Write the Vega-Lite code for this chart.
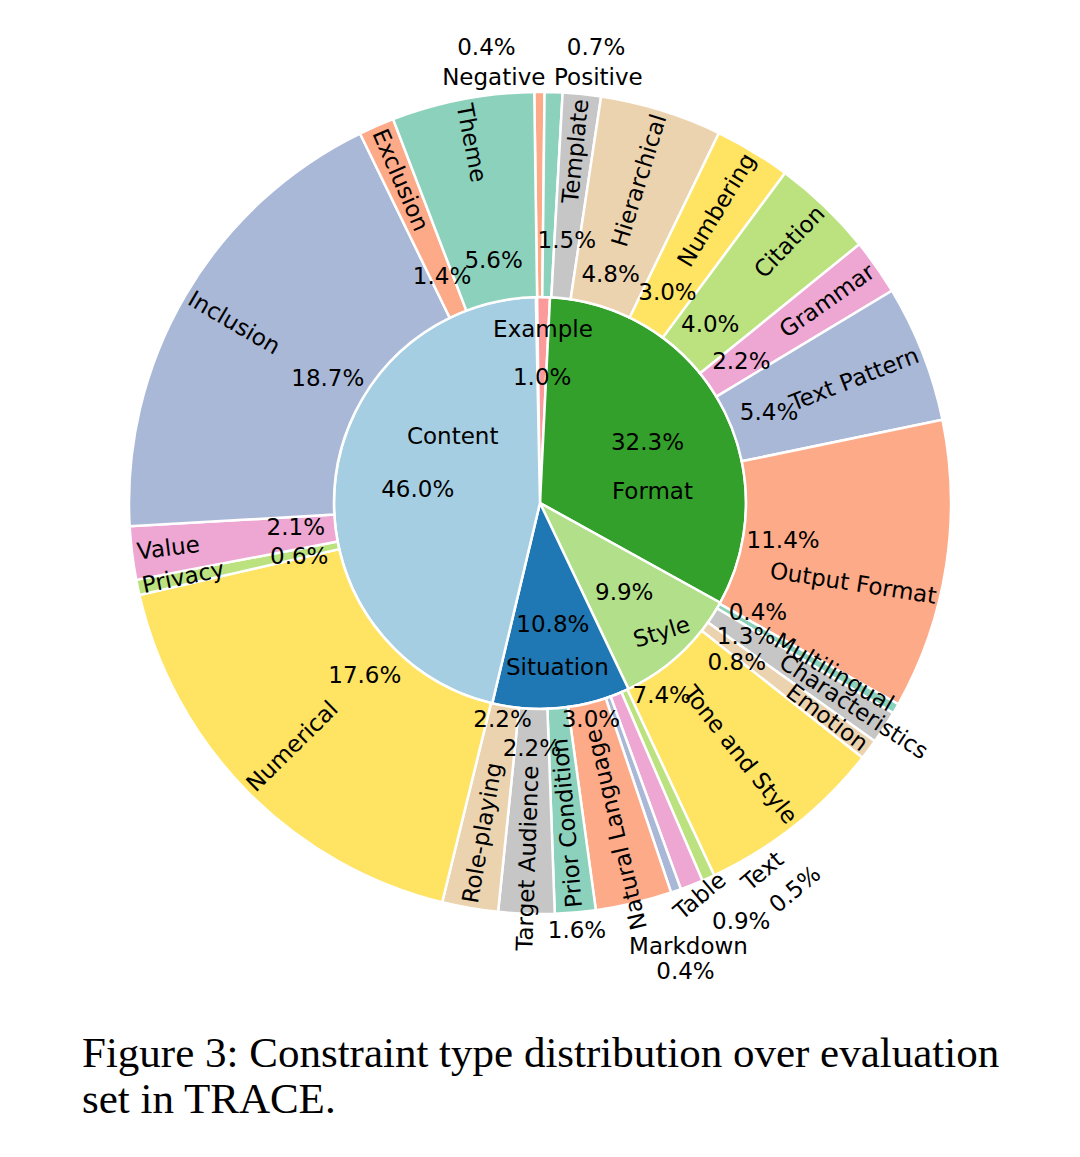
{
  "$schema": "https://vega.github.io/schema/vega-lite/v6.json",
  "width": 1080,
  "height": 1006,
  "padding": 0,
  "background": "white",
  "config": {"view": {"stroke": null}},
  "title": {
    "text": ["Figure 3: Constraint type distribution over evaluation", "set in TRACE."],
    "orient": "bottom",
    "anchor": "start",
    "dx": 82,
    "offset": 27,
    "font": "Liberation Serif",
    "fontSize": 43,
    "fontWeight": "normal",
    "color": "black",
    "lineHeight": 46
  },
  "datasets": {
    "inner": [
      {"name": "Example", "value": 1.0},
      {"name": "Format", "value": 32.3},
      {"name": "Style", "value": 9.9},
      {"name": "Situation", "value": 10.8},
      {"name": "Content", "value": 46.0}
    ],
    "outer": [
      {"name": "Negative", "parent": "Example", "value": 0.4},
      {"name": "Positive", "parent": "Example", "value": 0.7},
      {"name": "Template", "parent": "Format", "value": 1.5},
      {"name": "Hierarchical", "parent": "Format", "value": 4.8},
      {"name": "Numbering", "parent": "Format", "value": 3.0},
      {"name": "Citation", "parent": "Format", "value": 4.0},
      {"name": "Grammar", "parent": "Format", "value": 2.2},
      {"name": "Text Pattern", "parent": "Format", "value": 5.4},
      {"name": "Output Format", "parent": "Format", "value": 11.4},
      {"name": "Multilingual", "parent": "Style", "value": 0.4},
      {"name": "Characteristics", "parent": "Style", "value": 1.3},
      {"name": "Emotion", "parent": "Style", "value": 0.8},
      {"name": "Tone and Style", "parent": "Style", "value": 7.4},
      {"name": "Text", "parent": "Situation", "value": 0.5},
      {"name": "Table", "parent": "Situation", "value": 0.9},
      {"name": "Markdown", "parent": "Situation", "value": 0.4},
      {"name": "Natural Language", "parent": "Situation", "value": 3.0},
      {"name": "Prior Condition", "parent": "Situation", "value": 1.6},
      {"name": "Target Audience", "parent": "Situation", "value": 2.2},
      {"name": "Role-playing", "parent": "Situation", "value": 2.2},
      {"name": "Numerical", "parent": "Content", "value": 17.6},
      {"name": "Privacy", "parent": "Content", "value": 0.6},
      {"name": "Value", "parent": "Content", "value": 2.1},
      {"name": "Inclusion", "parent": "Content", "value": 18.7},
      {"name": "Exclusion", "parent": "Content", "value": 1.4},
      {"name": "Theme", "parent": "Content", "value": 5.6}
    ]
  },
  "layer": [
    {
      "data": {"name": "inner"},
      "transform": [{"window": [{"op": "row_number", "as": "rn"}]}],
      "mark": {"type": "arc", "outerRadius": 206, "stroke": "white", "strokeWidth": 2.5},
      "encoding": {
        "theta": {"field": "value", "type": "quantitative", "stack": true, "scale": {"domain": [0, 100.1], "range": [-0.01396, 6.26922]}},
        "order": {"field": "rn", "type": "quantitative"},
        "color": {
          "field": "name", "type": "nominal", "legend": null,
          "scale": {
            "domain": ["Example", "Format", "Style", "Situation", "Content",
              "Negative", "Positive", "Template", "Hierarchical", "Numbering", "Citation", "Grammar", "Text Pattern", "Output Format",
              "Multilingual", "Characteristics", "Emotion", "Tone and Style",
              "Text", "Table", "Markdown", "Natural Language", "Prior Condition", "Target Audience", "Role-playing",
              "Numerical", "Privacy", "Value", "Inclusion", "Exclusion", "Theme"],
            "range": ["#fb9a99", "#33a02c", "#b2df8a", "#1f78b4", "#a6cee3",
              "#fdaa89", "#8cd1bc", "#c6c6c6", "#ecd3af", "#ffe363", "#bce27f", "#eda7d2", "#aab8d8", "#fdaa89",
              "#8cd1bc", "#c6c6c6", "#ecd3af", "#ffe363",
              "#bce27f", "#eda7d2", "#aab8d8", "#fdaa89", "#8cd1bc", "#c6c6c6", "#ecd3af",
              "#ffe363", "#bce27f", "#eda7d2", "#aab8d8", "#fdaa89", "#8cd1bc"]
          }
        }
      }
    },
    {
      "data": {"name": "outer"},
      "transform": [{"window": [{"op": "row_number", "as": "rn"}]}],
      "mark": {"type": "arc", "innerRadius": 206, "outerRadius": 411, "stroke": "white", "strokeWidth": 2.5},
      "encoding": {
        "theta": {"field": "value", "type": "quantitative", "stack": true, "scale": {"domain": [0, 100.1], "range": [-0.01396, 6.26922]}},
        "order": {"field": "rn", "type": "quantitative"},
        "color": {"field": "name", "type": "nominal", "legend": null}
      }
    },
    {
      "data": {"name": "inner"},
      "transform": [{"window": [{"op": "row_number", "as": "rn"}]}],
      "mark": {
        "type": "text", "font": "DejaVu Sans", "fontSize": 23, "color": "black", "align": "center", "baseline": "middle",
        "radius": {"expr": "datum.name=='Example' ? 125 : 123"},
        "text": {"expr": "format(datum.value, '.1f') + '%'"}
      },
      "encoding": {
        "theta": {"field": "value", "type": "quantitative", "stack": true, "scale": {"domain": [0, 100.1], "range": [-0.01396, 6.26922]}},
        "order": {"field": "rn", "type": "quantitative"},
        "detail": {"field": "name", "type": "nominal"}
      }
    },
    {
      "data": {"name": "inner"},
      "transform": [{"window": [{"op": "row_number", "as": "rn"}]}],
      "mark": {
        "type": "text", "font": "DejaVu Sans", "fontSize": 23, "color": "black", "align": "center", "baseline": "middle",
        "radius": {"expr": "datum.name=='Style' ? 178 : datum.name=='Situation' ? 166 : datum.name=='Example' ? 173 : 123"},
        "dx": {"expr": "datum.name=='Content' ? 35 : datum.name=='Format' ? 5 : 0"},
        "dy": {"expr": "datum.name=='Content' ? -53 : datum.name=='Format' ? 49 : 0"},
        "angle": {"expr": "datum.name=='Style' ? -17 : 0"}
      },
      "encoding": {
        "theta": {"field": "value", "type": "quantitative", "stack": true, "scale": {"domain": [0, 100.1], "range": [-0.01396, 6.26922]}},
        "order": {"field": "rn", "type": "quantitative"},
        "detail": {"field": "name", "type": "nominal"},
        "text": {"field": "name", "type": "nominal"}
      }
    },
    {
      "data": {"name": "outer"},
      "transform": [{"window": [{"op": "row_number", "as": "rn"}]}],
      "mark": {
        "type": "text", "font": "DejaVu Sans", "fontSize": 23, "color": "black", "baseline": "middle",
        "radius": {"expr": "indexof(['Negative','Positive'], datum.name) >= 0 ? 425 : datum.name=='Table' ? 426 : datum.name=='Text' ? 433 : datum.name=='Markdown' ? 470 : datum.name=='Characteristics' ? 460 : datum.name=='Target Audience' ? 448 : datum.name=='Natural Language' ? 438 : 406"},
        "angle": {"expr": "indexof(['Negative','Positive','Markdown'], datum.name) >= 0 ? 0 : indexof(['Table','Text'], datum.name) >= 0 ? -40 : (((datum.value_start + datum.value_end) * 1.7982 - 0.8) < 150 ? ((datum.value_start + datum.value_end) * 1.7982 - 0.8) - 90 : ((datum.value_start + datum.value_end) * 1.7982 - 0.8) - 270)"},
        "align": {"expr": "datum.name=='Negative' ? 'right' : datum.name=='Positive' ? 'left' : indexof(['Table','Text','Markdown'], datum.name) >= 0 ? 'center' : (((datum.value_start + datum.value_end) * 1.7982 - 0.8) < 150 ? 'right' : 'left')"},
        "dx": {"expr": "datum.name=='Negative' ? 6 : datum.name=='Text' ? 52 : datum.name=='Table' ? 4 : datum.name=='Markdown' ? -7 : 0"},
        "dy": {"expr": "datum.name=='Text' ? 9 : datum.name=='Output Format' ? 32 : 0"}
      },
      "encoding": {
        "theta": {"field": "value", "type": "quantitative", "stack": true, "scale": {"domain": [0, 100.1], "range": [-0.01396, 6.26922]}},
        "order": {"field": "rn", "type": "quantitative"},
        "detail": {"field": "name", "type": "nominal"},
        "text": {"field": "name", "type": "nominal"}
      }
    },
    {
      "data": {"name": "outer"},
      "transform": [{"window": [{"op": "row_number", "as": "rn"}]}],
      "mark": {
        "type": "text", "font": "DejaVu Sans", "fontSize": 23, "color": "black", "align": "center", "baseline": "middle",
        "text": {"expr": "format(datum.value, '.1f') + '%'"},
        "radius": {"expr": "indexof(['Negative','Positive'], datum.name) >= 0 ? 425 : datum.name=='Table' ? 426 : datum.name=='Text' ? 433 : datum.name=='Markdown' ? 470 : datum.name=='Prior Condition' ? 430 : datum.name=='Role-playing' ? 220 : datum.name=='Natural Language' ? 223 : datum.name=='Template' ? 263 : datum.name=='Hierarchical' ? 239 : 246"},
        "dx": {"expr": "datum.name=='Negative' ? -53 : datum.name=='Positive' ? 42 : datum.name=='Table' ? 44 : datum.name=='Text' ? 65 : datum.name=='Markdown' ? -10 : datum.name=='Tone and Style' ? -31 : datum.name=='Multilingual' ? 5 : 0"},
        "dy": {"expr": "indexof(['Negative','Positive'], datum.name) >= 0 ? -30 : datum.name=='Table' ? 23 : datum.name=='Text' ? 44 : datum.name=='Markdown' ? 25 : datum.name=='Multilingual' ? -13 : datum.name=='Emotion' ? 12 : datum.name=='Value' ? -5 : datum.name=='Privacy' ? 3 : 0"},
        "angle": {"expr": "datum.name=='Text' ? -40 : 0"}
      },
      "encoding": {
        "theta": {"field": "value", "type": "quantitative", "stack": true, "scale": {"domain": [0, 100.1], "range": [-0.01396, 6.26922]}},
        "order": {"field": "rn", "type": "quantitative"},
        "detail": {"field": "name", "type": "nominal"}
      }
    }
  ]
}
